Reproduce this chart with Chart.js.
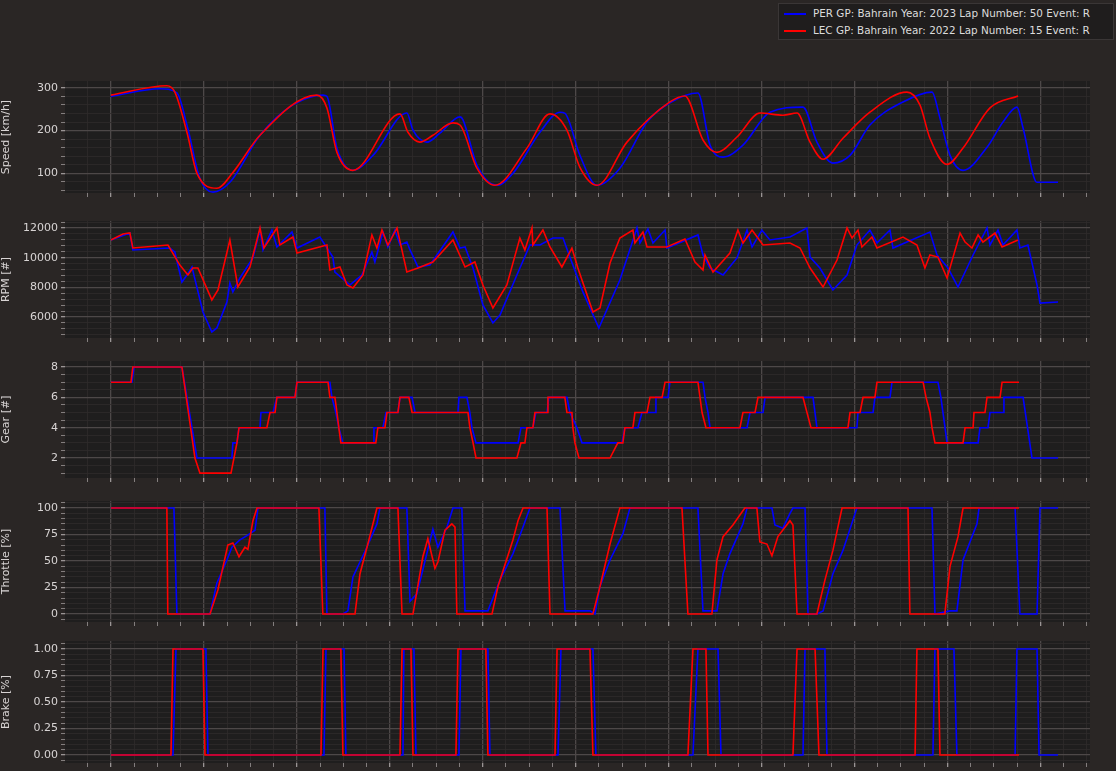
<!DOCTYPE html>
<html>
<head>
<meta charset="utf-8">
<script src="https://cdn.jsdelivr.net/npm/chart.js@4"></script>
<style>
  body { margin: 0; background: #2a2625; width: 1116px; height: 771px; overflow: hidden; font-family: "DejaVu Sans", sans-serif; }
  .panel { position: absolute; left: 0; width: 1116px; }
  #legend { position: absolute; left: 778px; top: 3px; width: 336px; height: 37px; background: #1f1d1d; border: 1px solid #3a3636; box-sizing: border-box; color: #dcdcdc; font-size: 10.4px; }
  .item { position: absolute; left: 5px; white-space: nowrap; }
  .item span { display: inline-block; width: 22px; height: 2px; vertical-align: middle; margin-right: 7px; }
</style>
</head>
<body>
<div id="legend">
  <div class="item" style="top:3px"><span style="background:#0000ff"></span>PER GP: Bahrain Year: 2023 Lap Number: 50 Event: R</div>
  <div class="item" style="top:20px"><span style="background:#ff0000"></span>LEC GP: Bahrain Year: 2022 Lap Number: 15 Event: R</div>
</div>
<script>
// distance [m], value pairs
const perSpeed = [[0,280],[264,298],[355,288],[409,213],[479,88],[549,56],[640,79],[802,189],[979,260],[1141,283],[1162,280],[1216,159],[1302,107],[1410,142],[1592,241],[1625,201],[1700,173],[1770,194],[1878,232],[1894,225],[1969,119],[2077,72],[2163,100],[2308,196],[2416,243],[2443,240],[2523,142],[2615,72],[2738,112],[2884,220],[3007,265],[3158,288],[3223,166],[3293,138],[3400,166],[3545,243],[3723,255],[3798,173],[3884,124],[3976,142],[4083,213],[4261,267],[4417,290],[4460,229],[4514,142],[4584,107],[4713,161],[4799,220],[4874,255],[4907,206],[4982,79],[5095,79]];
const lecSpeed = [[0,283],[301,305],[344,290],[409,196],[463,100],[570,65],[656,102],[802,189],[1108,283],[1162,253],[1216,149],[1302,107],[1555,239],[1598,196],[1662,173],[1732,189],[1840,218],[1878,213],[1969,112],[2066,72],[2238,159],[2362,239],[2453,201],[2523,114],[2615,72],[2776,173],[3007,267],[3088,281],[3185,178],[3260,149],[3368,185],[3492,241],[3615,236],[3691,241],[3761,173],[3831,133],[3938,182],[4083,243],[4282,290],[4352,260],[4406,182],[4498,121],[4584,159],[4729,253],[4880,281]];

const perRpm = [[0,11190],[102,11660],[118,10520],[317,10650],[344,10380],[382,8360],[409,8830],[436,9370],[495,6340],[543,4990],[570,5260],[624,7010],[640,8290],[656,7690],[694,8630],[764,9980],[802,11860],[818,10520],[866,11860],[893,10720],[974,11730],[1001,10650],[1124,11390],[1194,10040],[1205,9030],[1286,8160],[1350,8830],[1404,10380],[1420,9710],[1463,11730],[1490,10720],[1528,11860],[1555,10850],[1592,11050],[1609,10520],[1652,9370],[1716,9500],[1754,10180],[1840,11730],[1878,10650],[1905,10720],[1948,9300],[2001,6810],[2055,5600],[2093,6130],[2184,8830],[2254,10850],[2308,10850],[2378,11320],[2432,11320],[2469,10040],[2539,7690],[2625,5260],[2738,8490],[2830,12000],[2846,10990],[2889,11930],[2916,10990],[2981,11860],[2991,10650],[3158,11530],[3185,10180],[3223,9300],[3293,8830],[3368,9980],[3422,11860],[3449,10720],[3502,11860],[3545,11190],[3653,11390],[3744,12000],[3761,10040],[3814,9300],[3884,7820],[3960,8830],[4013,10850],[4083,11860],[4121,10990],[4191,11860],[4207,10650],[4406,11730],[4444,10180],[4503,9300],[4557,8020],[4638,10180],[4713,12000],[4729,10850],[4772,11860],[4799,10850],[4874,11860],[4890,10650],[4933,10850],[4982,8160],[4998,6940],[5095,7010]];
const lecRpm = [[0,11190],[65,11590],[102,11660],[118,10650],[307,10850],[371,9500],[414,8830],[441,9300],[468,9300],[543,7150],[576,7820],[640,11190],[683,8020],[748,9370],[802,12000],[823,10650],[893,12000],[909,10850],[979,11390],[1001,10310],[1162,10850],[1178,9170],[1232,9370],[1270,8160],[1302,7950],[1356,8830],[1404,11530],[1431,10650],[1458,11860],[1490,10850],[1539,12000],[1592,9030],[1652,9300],[1732,9710],[1840,11190],[1905,9370],[1958,9710],[2001,8160],[2055,6610],[2130,8160],[2200,11320],[2227,10520],[2265,12000],[2270,10850],[2324,11860],[2362,10720],[2426,9370],[2480,10650],[2512,9300],[2593,6340],[2631,6610],[2685,9640],[2738,11320],[2808,11860],[2819,10990],[2862,11730],[2884,10720],[2991,10720],[3088,11260],[3142,9710],[3185,9170],[3196,10180],[3239,9030],[3330,10310],[3373,11860],[3400,10990],[3449,11860],[3508,10850],[3653,10990],[3707,10650],[3761,9300],[3831,8020],[3906,9840],[3960,12000],[3987,11320],[4019,11860],[4040,10720],[4094,11390],[4121,10650],[4261,11390],[4336,10850],[4379,9300],[4406,10180],[4449,10040],[4498,8630],[4568,11660],[4595,11050],[4632,10650],[4665,11530],[4691,11050],[4756,11660],[4794,10720],[4880,11190]];

const perGear = [[0,7],[113,7],[124,8],[382,8],[463,2],[651,2],[656,3],[678,3],[689,4],[802,4],[807,5],[872,5],[893,6],[990,6],[1001,7],[1178,7],[1189,6],[1210,5],[1226,4],[1248,3],[1410,3],[1415,4],[1463,4],[1480,5],[1544,5],[1555,6],[1620,6],[1636,5],[1867,5],[1872,6],[1915,6],[1931,5],[1942,4],[1964,3],[2190,3],[2206,4],[2270,4],[2286,5],[2346,5],[2356,6],[2453,6],[2469,5],[2507,4],[2534,3],[2749,3],[2765,4],[2835,4],[2857,5],[2927,5],[2932,6],[2997,6],[3007,7],[3185,7],[3196,6],[3212,5],[3223,4],[3422,4],[3438,5],[3508,5],[3519,6],[3777,6],[3798,4],[4013,4],[4019,5],[4100,5],[4110,6],[4191,6],[4202,7],[4449,7],[4465,6],[4476,5],[4487,4],[4498,3],[4665,3],[4675,4],[4718,4],[4729,5],[4799,5],[4804,6],[4907,6],[4955,2],[5095,2]];
const lecGear = [[0,7],[108,7],[118,8],[382,8],[452,2],[479,1],[646,1],[678,3],[689,4],[839,4],[856,5],[883,5],[893,6],[990,6],[1001,7],[1168,7],[1178,6],[1205,6],[1216,5],[1226,4],[1237,3],[1425,3],[1436,4],[1474,4],[1485,5],[1544,5],[1555,6],[1603,6],[1620,5],[1921,5],[1931,4],[1948,3],[1964,2],[2184,2],[2206,3],[2227,3],[2238,4],[2270,4],[2281,5],[2346,5],[2351,6],[2442,6],[2453,5],[2480,5],[2485,4],[2496,3],[2518,2],[2685,2],[2727,3],[2754,3],[2765,4],[2808,4],[2819,5],[2884,5],[2900,6],[2965,6],[2981,7],[3158,7],[3180,5],[3201,4],[3384,4],[3400,5],[3465,5],[3481,6],[3723,6],[3766,4],[3965,4],[3976,5],[4030,5],[4046,6],[4110,6],[4121,7],[4369,7],[4385,6],[4406,5],[4417,4],[4433,3],[4584,3],[4595,4],[4638,4],[4643,5],[4702,5],[4713,6],[4783,6],[4794,7],[4885,7]];

const perThrottle = [[0,100],[339,100],[355,0],[533,0],[570,29],[624,51],[651,63],[694,70],[732,74],[775,79],[791,100],[1151,100],[1162,0],[1248,0],[1275,3],[1302,35],[1377,63],[1431,85],[1447,100],[1592,100],[1609,12],[1646,19],[1732,80],[1759,63],[1808,82],[1840,100],[1888,100],[1905,3],[2028,3],[2093,32],[2163,57],[2217,82],[2254,100],[2416,100],[2443,3],[2577,3],[2604,0],[2631,26],[2685,51],[2755,76],[2792,100],[3158,100],[3185,3],[3260,3],[3293,38],[3330,57],[3400,85],[3422,100],[3556,100],[3572,84],[3615,81],[3653,95],[3669,100],[3734,100],[3750,0],[3798,0],[3831,3],[3884,38],[3938,60],[4013,100],[4417,100],[4433,0],[4514,3],[4551,3],[4584,51],[4659,85],[4670,100],[4864,100],[4890,0],[4982,0],[4998,100],[5095,100]];
const lecThrottle = [[0,100],[301,100],[306,0],[533,0],[576,23],[629,65],[656,67],[689,54],[721,63],[737,61],[764,88],[786,100],[1119,100],[1140,0],[1313,0],[1340,38],[1388,70],[1431,100],[1544,100],[1566,0],[1625,0],[1678,54],[1705,71],[1743,43],[1759,49],[1797,79],[1834,85],[1851,82],[1861,0],[2050,0],[2082,26],[2163,70],[2190,88],[2217,100],[2346,100],[2362,0],[2593,0],[2631,26],[2685,66],[2738,100],[3072,100],[3104,0],[3233,0],[3260,51],[3293,73],[3346,84],[3410,100],[3475,100],[3491,68],[3529,66],[3556,55],[3588,73],[3653,88],[3669,84],[3691,0],[3798,0],[3841,32],[3884,60],[3933,100],[4288,100],[4298,0],[4486,0],[4514,45],[4557,73],[4584,100],[4885,100]];

const perBrake = [[0,0],[334,0],[350,1],[511,1],[522,0],[1146,0],[1157,1],[1254,1],[1264,0],[1571,0],[1576,1],[1630,1],[1641,0],[1872,0],[1883,1],[2028,1],[2039,0],[2405,0],[2421,1],[2593,1],[2609,0],[3131,0],[3158,1],[3266,1],[3282,0],[3723,0],[3734,1],[3841,1],[3852,0],[4422,0],[4433,1],[4535,1],[4551,0],[4864,0],[4874,1],[4982,1],[4993,0],[5095,0]];
const lecBrake = [[0,0],[323,0],[334,1],[495,1],[506,0],[1130,0],[1141,1],[1237,1],[1248,0],[1555,0],[1566,1],[1614,1],[1625,0],[1856,0],[1867,1],[2017,1],[2028,0],[2389,0],[2400,1],[2577,1],[2593,0],[3104,0],[3131,1],[3201,1],[3212,0],[3669,0],[3691,1],[3788,1],[3809,0],[4326,0],[4336,1],[4449,1],[4460,0],[4885,0]];

const panels = [
    { title: 'Speed [km/h]', per: perSpeed, lec: lecSpeed, top: 81, bottom: 193, min: 54, max: 316, major: 100, minor: 20, dec: 0, smooth: true },
    { title: 'RPM [#]', per: perRpm, lec: lecRpm, top: 221, bottom: 338, min: 4585, max: 12470, major: 2000, minor: 400, dec: 0 },
    { title: 'Gear [#]', per: perGear, lec: lecGear, top: 361, bottom: 478, min: 0.68, max: 8.4, major: 2, minor: 0.5, dec: 0 },
    { title: 'Throttle [%]', per: perThrottle, lec: lecThrottle, top: 501, bottom: 622, min: -7.5, max: 106.6, major: 25, minor: 5, dec: 0 },
    { title: 'Brake [%]', per: perBrake, lec: lecBrake, top: 641, bottom: 763, min: -0.075, max: 1.075, major: 0.25, minor: 0.05, dec: 2 }
];

const X_MIN = -247, X_MAX = 5267;
const PAD_TOP = 5, X_AXIS_H = 7;

function isMajor(v, step) {
    if (v === undefined) return false;
    const r = v / step;
    return Math.abs(r - Math.round(r)) < 1e-6;
}
const tickVal = c => (c.tick ? c.tick.value : undefined);

panels.forEach(p => {
    const div = document.createElement('div');
    div.className = 'panel';
    div.style.top = (p.top - PAD_TOP) + 'px';
    const h = p.bottom - p.top + PAD_TOP + X_AXIS_H;
    div.style.height = h + 'px';
    const canvas = document.createElement('canvas');
    div.appendChild(canvas);
    document.body.appendChild(div);

    const toPts = arr => arr.map(([x, y]) => ({ x, y }));
    const interp = p.smooth ? 'monotone' : 'default';

    new Chart(canvas, {
        type: 'line',
        data: {
            datasets: [
                { label: 'PER', data: toPts(p.per), borderColor: '#0000ff', borderWidth: 1.6, pointRadius: 0, order: 2, cubicInterpolationMode: interp },
                { label: 'LEC', data: toPts(p.lec), borderColor: '#ff0000', borderWidth: 1.6, pointRadius: 0, order: 1, cubicInterpolationMode: interp }
            ]
        },
        options: {
            animation: false,
            responsive: true,
            maintainAspectRatio: false,
            layout: { padding: { top: PAD_TOP, right: 26, left: 0, bottom: 0 } },
            plugins: { legend: { display: false }, tooltip: { enabled: false } },
            scales: {
                x: {
                    type: 'linear',
                    min: X_MIN,
                    max: X_MAX,
                    afterBuildTicks: axis => {
                        const ticks = [];
                        for (let v = -125; v <= X_MAX; v += 125) ticks.push({ value: v });
                        axis.ticks = ticks;
                    },
                    afterFit: axis => { axis.height = X_AXIS_H; axis.paddingLeft = 0; axis.paddingRight = 0; },
                    ticks: { display: false },
                    grid: {
                        color: c => isMajor(tickVal(c), 500) ? '#4d4848' : '#2e2b2b',
                        lineWidth: c => isMajor(tickVal(c), 500) ? 1.3 : 0.8,
                        tickColor: '#9a9595',
                        tickLength: 4
                    },
                    border: { display: false }
                },
                y: {
                    min: p.min,
                    max: p.max,
                    afterBuildTicks: axis => {
                        const ticks = [];
                        const start = Math.ceil(p.min / p.minor) * p.minor;
                        for (let v = start; v <= p.max + 1e-9; v += p.minor) ticks.push({ value: +v.toFixed(4) });
                        axis.ticks = ticks;
                    },
                    afterFit: axis => { axis.width = 65; axis.paddingTop = 0; axis.paddingBottom = 0; },
                    title: { display: true, text: p.title, color: '#d8d4d4', font: { family: 'DejaVu Sans', size: 11 }, padding: { top: 0, bottom: 2 } },
                    ticks: {
                        autoSkip: false,
                        color: '#d8d4d4',
                        font: { family: 'DejaVu Sans', size: 11 },
                        padding: 3,
                        callback: v => isMajor(v, p.major) ? v.toFixed(p.dec) : ''
                    },
                    grid: {
                        color: c => isMajor(tickVal(c), p.major) ? '#4d4848' : '#2e2b2b',
                        lineWidth: c => isMajor(tickVal(c), p.major) ? 1.3 : 0.8,
                        tickColor: '#9a9595',
                        tickLength: 4
                    },
                    border: { display: false }
                }
            }
        },
        plugins: [{
            id: 'plotBg',
            beforeDraw: chart => {
                const { ctx, chartArea: a } = chart;
                ctx.save();
                ctx.fillStyle = '#1f1e1e';
                ctx.fillRect(a.left, a.top, a.right - a.left, a.bottom - a.top);
                ctx.restore();
            }
        }]
    });
});
</script>
</body>
</html>
